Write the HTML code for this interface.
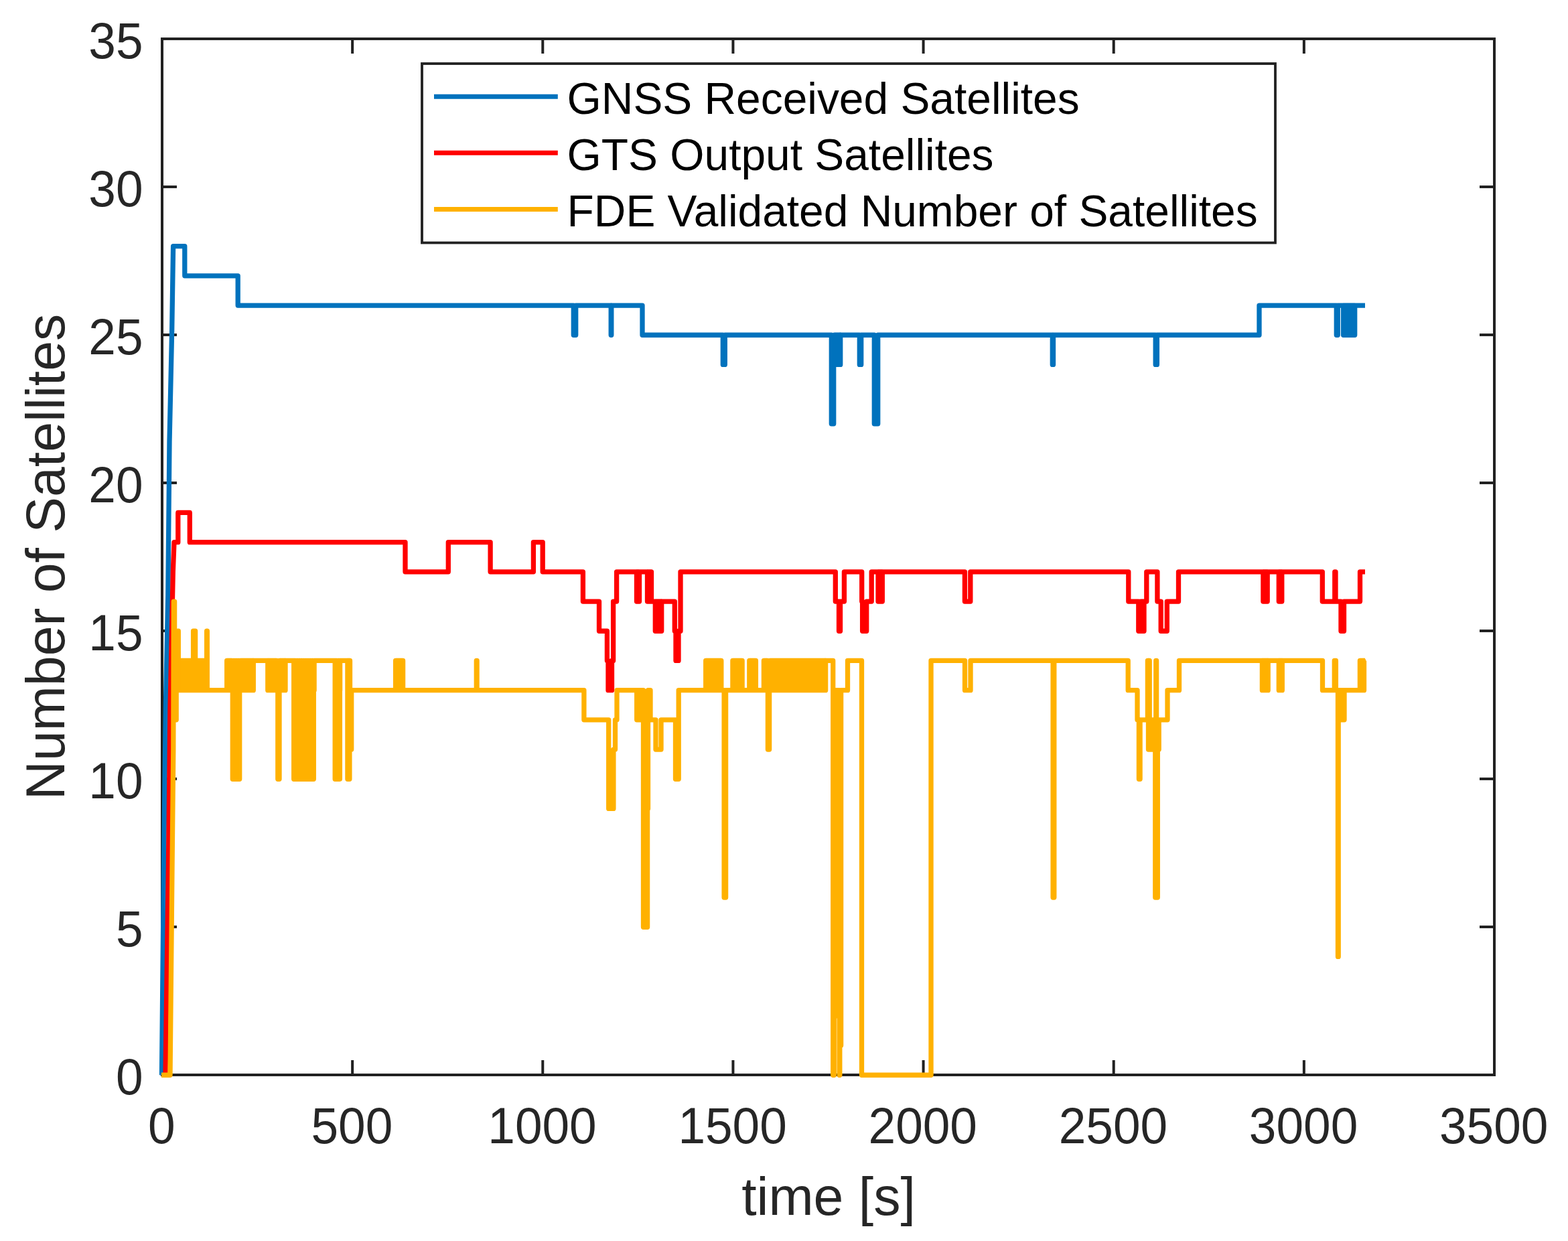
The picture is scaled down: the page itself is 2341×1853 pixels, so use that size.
<!DOCTYPE html>
<html><head><meta charset="utf-8"><title>Number of Satellites</title>
<style>
html,body{margin:0;padding:0;background:#fff;}
body{width:2341px;height:1853px;overflow:hidden;}
svg{display:block;}
text{font-family:"Liberation Sans",Arial,Helvetica,sans-serif;}
</style></head>
<body>
<svg width="2341" height="1853" viewBox="0 0 2341 1853">
<rect x="0" y="0" width="2341" height="1853" fill="#fff"/>
<g fill="none" stroke="#212121" stroke-width="4">
<rect x="242" y="58" width="1989" height="1547"/>
<path d="M242 1605V1583M242 58V80M242 1605H264M2231 1605H2209M526.14 1605V1583M526.14 58V80M242 1384H264M2231 1384H2209M810.29 1605V1583M810.29 58V80M242 1163H264M2231 1163H2209M1094.43 1605V1583M1094.43 58V80M242 942H264M2231 942H2209M1378.57 1605V1583M1378.57 58V80M242 721H264M2231 721H2209M1662.71 1605V1583M1662.71 58V80M242 500H264M2231 500H2209M1946.86 1605V1583M1946.86 58V80M242 279H264M2231 279H2209M2231 1605V1583M2231 58V80M242 58H264M2231 58H2209"/>
</g>
<g fill="none" stroke-linejoin="round" stroke-linecap="butt" stroke-width="7.3">
<path stroke="#0072BD" d="M241.5 1605.25L244.5 1295.85L247.5 1048.33L250.8 889.21L253 659.37L256.7 491.41L258.6 367.65L275.8 367.65L275.8 411.85L355.2 411.85L355.2 456.05L856.3 456.05L856.3 500.25L859.7 500.25L859.7 456.05L912.2 456.05L912.2 500.25L912.8 500.25L912.8 456.05L959 456.05L959 500.25L1079.3 500.25L1079.3 544.45L1082.3 544.45L1082.3 500.25L1241.3 500.25L1241.3 632.85L1244.7 632.85L1244.7 544.45L1245.5 544.45L1245.5 500.25L1246.5 500.25L1246.5 544.45L1247.5 544.45L1247.5 500.25L1248.5 500.25L1248.5 544.45L1249.5 544.45L1249.5 500.25L1250.5 500.25L1250.5 544.45L1251.5 544.45L1251.5 500.25L1252.5 500.25L1252.5 544.45L1253.5 544.45L1253.5 500.25L1254.5 500.25L1254.5 544.45L1254.7 544.45L1254.7 500.25L1283.3 500.25L1283.3 544.45L1285.7 544.45L1285.7 500.25L1305.3 500.25L1305.3 632.85L1310.7 632.85L1310.7 500.25L1571.3 500.25L1571.3 544.45L1572.5 544.45L1572.5 500.25L1725.2 500.25L1725.2 544.45L1727.4 544.45L1727.4 500.25L1880 500.25L1880 456.05L1995.3 456.05L1995.3 500.25L1997.3 500.25L1997.3 456.05L2005.6 456.05L2005.6 500.25L2006.5 500.25L2006.5 456.05L2007.4 456.05L2007.4 500.25L2008.3 500.25L2008.3 456.05L2009.2 456.05L2009.2 500.25L2010.1 500.25L2010.1 456.05L2011 456.05L2011 500.25L2011.9 500.25L2011.9 456.05L2012.8 456.05L2012.8 500.25L2013.7 500.25L2013.7 456.05L2014.6 456.05L2014.6 500.25L2015.5 500.25L2015.5 456.05L2016.4 456.05L2016.4 500.25L2017.3 500.25L2017.3 456.05L2018.2 456.05L2018.2 500.25L2019.1 500.25L2019.1 456.05L2020 456.05L2020 500.25L2020.9 500.25L2020.9 456.05L2021.8 456.05L2021.8 500.25L2022.7 500.25L2022.7 456.05L2023.4 456.05L2023.4 456.05L2038 456.05"/>
<path stroke="#FF0000" d="M247 1605.25L251.4 1295.85L254 1057.17L256.5 942.25L258.3 853.85L260 809.65L265.8 809.65L265.8 765.45L283.3 765.45L283.3 809.65L605 809.65L605 853.85L669.3 853.85L669.3 809.65L732.1 809.65L732.1 853.85L796.4 853.85L796.4 809.65L810.2 809.65L810.2 853.85L870.4 853.85L870.4 898.05L894.5 898.05L894.5 942.25L906.4 942.25L906.4 986.45L908 986.45L908 1030.65L913.5 1030.65L913.5 986.45L915.6 986.45L915.6 898.05L920.6 898.05L920.6 853.85L950.5 853.85L950.5 898.05L951.5 898.05L951.5 853.85L952.5 853.85L952.5 898.05L953.5 898.05L953.5 853.85L954.5 853.85L954.5 898.05L954.5 853.85L966.5 853.85L966.5 898.05L967.5 898.05L967.5 853.85L968.7 853.85L968.7 898.05L969.9 898.05L969.9 853.85L971.1 853.85L971.1 898.05L972.3 898.05L972.3 853.85L972.5 853.85L972.5 898.05L978.3 898.05L978.3 942.25L979.2 942.25L979.2 898.05L980.1 898.05L980.1 942.25L981 942.25L981 898.05L981.9 898.05L981.9 942.25L982.8 942.25L982.8 898.05L983.7 898.05L983.7 942.25L984.6 942.25L984.6 898.05L985.5 898.05L985.5 942.25L986.4 942.25L986.4 898.05L987.3 898.05L987.3 942.25L987.7 942.25L987.7 898.05L1007.3 898.05L1007.3 942.25L1009 942.25L1009 986.45L1013 986.45L1013 942.25L1016 942.25L1016 853.85L1247.3 853.85L1247.3 898.05L1252.5 898.05L1252.5 942.25L1254.5 942.25L1254.5 898.05L1260.4 898.05L1260.4 853.85L1286.7 853.85L1286.7 898.05L1287.6 898.05L1287.6 942.25L1293.7 942.25L1293.7 898.05L1301.2 898.05L1301.2 853.85L1311 853.85L1311 898.05L1311.9 898.05L1311.9 853.85L1312.8 853.85L1312.8 898.05L1313.7 898.05L1313.7 853.85L1314.6 853.85L1314.6 898.05L1315.5 898.05L1315.5 853.85L1316.4 853.85L1316.4 898.05L1317.3 898.05L1317.3 853.85L1318 853.85L1318 853.85L1440.4 853.85L1440.4 898.05L1448.8 898.05L1448.8 853.85L1684.8 853.85L1684.8 898.05L1699.8 898.05L1699.8 942.25L1703 942.25L1703 898.05L1704 898.05L1704 942.25L1705 942.25L1705 898.05L1706 898.05L1706 942.25L1707 942.25L1707 898.05L1708 898.05L1708 942.25L1708 898.05L1711.8 898.05L1711.8 853.85L1727.9 853.85L1727.9 898.05L1733.2 898.05L1733.2 942.25L1742.3 942.25L1742.3 898.05L1759.5 898.05L1759.5 853.85L1885.9 853.85L1885.9 898.05L1886.8 898.05L1886.8 853.85L1887.7 853.85L1887.7 898.05L1888.6 898.05L1888.6 853.85L1889.5 853.85L1889.5 898.05L1890.4 898.05L1890.4 853.85L1891.3 853.85L1891.3 898.05L1892.2 898.05L1892.2 853.85L1892.2 853.85L1892.2 853.85L1909.3 853.85L1909.3 898.05L1910.2 898.05L1910.2 853.85L1911.1 853.85L1911.1 898.05L1912 898.05L1912 853.85L1912.9 853.85L1912.9 898.05L1913.8 898.05L1913.8 853.85L1914.6 853.85L1914.6 853.85L1974.3 853.85L1974.3 898.05L1992.8 898.05L1992.8 853.85L1994 853.85L1994 898.05L2002 898.05L2002 942.25L2006.5 942.25L2006.5 898.05L2030.5 898.05L2030.5 853.85L2038 853.85"/>
<path stroke="#FFB100" d="M241 1605.25L254 1605.25L257 1295.85L258.8 1119.05L259.3 898.05L260.2 898.05L260.6 898.05L260.6 1074.85L261.6 1074.85L261.6 986.45L262.3 986.45L262.3 1074.85L263.2 1074.85L263.2 1030.65L263.6 1030.65L263.6 986.45L264.7 986.45L264.7 1030.65L265.8 1030.65L265.8 986.45L266.9 986.45L266.9 1030.65L268 1030.65L268 986.45L269.1 986.45L269.1 1030.65L270.2 1030.65L270.2 986.45L271.3 986.45L271.3 1030.65L272.4 1030.65L272.4 986.45L273.5 986.45L273.5 1030.65L274.6 1030.65L274.6 986.45L275.7 986.45L275.7 1030.65L276.8 1030.65L276.8 986.45L277.9 986.45L277.9 1030.65L279 1030.65L279 986.45L280.1 986.45L280.1 1030.65L281.2 1030.65L281.2 986.45L282.3 986.45L282.3 1030.65L283.4 1030.65L283.4 986.45L284.5 986.45L284.5 1030.65L285.6 1030.65L285.6 986.45L286.7 986.45L286.7 1030.65L287.8 1030.65L287.8 986.45L288.9 986.45L288.9 1030.65L290 1030.65L290 986.45L291.1 986.45L291.1 1030.65L292.2 1030.65L292.2 986.45L293.3 986.45L293.3 1030.65L294.4 1030.65L294.4 986.45L295.5 986.45L295.5 1030.65L296.6 1030.65L296.6 986.45L297.7 986.45L297.7 1030.65L298.8 1030.65L298.8 986.45L299.9 986.45L299.9 1030.65L301 1030.65L301 986.45L302.1 986.45L302.1 1030.65L303.2 1030.65L303.2 986.45L304.3 986.45L304.3 1030.65L305.4 1030.65L305.4 986.45L306.5 986.45L306.5 1030.65L307.6 1030.65L307.6 986.45L308.7 986.45L308.7 1030.65L309.4 1030.65L309.4 1030.65L338.7 1030.65L338.7 986.45L339.8 986.45L339.8 1030.65L340.9 1030.65L340.9 986.45L342 986.45L342 1030.65L343.1 1030.65L343.1 986.45L344.2 986.45L344.2 1030.65L345.3 1030.65L345.3 986.45L346.4 986.45L346.4 1030.65L347.3 1030.65L347.3 1163.25L348.1 1163.25L348.1 1030.65L348.9 1030.65L348.9 986.45L349.7 986.45L349.7 1030.65L350.5 1030.65L350.5 1163.25L351.3 1163.25L351.3 1030.65L352.1 1030.65L352.1 986.45L352.9 986.45L352.9 1030.65L353.7 1030.65L353.7 1163.25L354.5 1163.25L354.5 1030.65L355.3 1030.65L355.3 986.45L356.1 986.45L356.1 1030.65L356.9 1030.65L356.9 1163.25L357.7 1163.25L357.7 1030.65L358.5 1030.65L358.5 986.45L358.9 986.45L358.9 986.45L360 986.45L360 1030.65L361.1 1030.65L361.1 986.45L362.2 986.45L362.2 1030.65L363.3 1030.65L363.3 986.45L364.4 986.45L364.4 1030.65L365.5 1030.65L365.5 986.45L366.6 986.45L366.6 1030.65L367.7 1030.65L367.7 986.45L368.8 986.45L368.8 1030.65L369.9 1030.65L369.9 986.45L371 986.45L371 1030.65L372.1 1030.65L372.1 986.45L373.2 986.45L373.2 1030.65L374.3 1030.65L374.3 986.45L375.4 986.45L375.4 1030.65L376.5 1030.65L376.5 986.45L377.6 986.45L377.6 1030.65L378.3 1030.65L378.3 986.45L399.8 986.45L399.8 1030.65L400.9 1030.65L400.9 986.45L402 986.45L402 1030.65L403.1 1030.65L403.1 986.45L404.2 986.45L404.2 1030.65L405.3 1030.65L405.3 986.45L406.4 986.45L406.4 1030.65L407.5 1030.65L407.5 986.45L408.6 986.45L408.6 1030.65L409.7 1030.65L409.7 986.45L410.8 986.45L410.8 1030.65L411.9 1030.65L411.9 986.45L413 986.45L413 1030.65L414.8 1030.65L414.8 1163.25L417 1163.25L417 1030.65L417.4 1030.65L417.4 986.45L418.5 986.45L418.5 1030.65L419.6 1030.65L419.6 986.45L420.7 986.45L420.7 1030.65L421.8 1030.65L421.8 986.45L422.9 986.45L422.9 1030.65L424 1030.65L424 986.45L425.1 986.45L425.1 1030.65L426 1030.65L426 986.45L438.7 986.45L438.7 1163.25L439.5 1163.25L439.5 1030.65L440.3 1030.65L440.3 986.45L441.1 986.45L441.1 1030.65L441.9 1030.65L441.9 1163.25L442.7 1163.25L442.7 1030.65L443.5 1030.65L443.5 986.45L444.3 986.45L444.3 1030.65L445.1 1030.65L445.1 1163.25L445.9 1163.25L445.9 1030.65L446.7 1030.65L446.7 986.45L447.5 986.45L447.5 1030.65L448.3 1030.65L448.3 1163.25L449.1 1163.25L449.1 1030.65L449.9 1030.65L449.9 986.45L450.7 986.45L450.7 1030.65L451.5 1030.65L451.5 1163.25L452.3 1163.25L452.3 1030.65L453.1 1030.65L453.1 986.45L453.9 986.45L453.9 1030.65L454.7 1030.65L454.7 1163.25L455.5 1163.25L455.5 1030.65L456.3 1030.65L456.3 986.45L457.1 986.45L457.1 1030.65L457.9 1030.65L457.9 1163.25L458.7 1163.25L458.7 1030.65L459.5 1030.65L459.5 986.45L460.3 986.45L460.3 1030.65L461.1 1030.65L461.1 1163.25L461.9 1163.25L461.9 1030.65L462.7 1030.65L462.7 986.45L463.5 986.45L463.5 1030.65L464.3 1030.65L464.3 1163.25L465.1 1163.25L465.1 1030.65L465.9 1030.65L465.9 986.45L466.7 986.45L466.7 1030.65L467.5 1030.65L467.5 1163.25L468.3 1163.25L468.3 1030.65L469.1 1030.65L469.1 986.45L469.4 986.45L469.4 986.45L500.2 986.45L500.2 1163.25L501 1163.25L501 1030.65L501.8 1030.65L501.8 986.45L502.6 986.45L502.6 1030.65L503.4 1030.65L503.4 1163.25L504.2 1163.25L504.2 1030.65L505 1030.65L505 986.45L505.8 986.45L505.8 1030.65L506.6 1030.65L506.6 1163.25L507.4 1163.25L507.4 1030.65L507.6 1030.65L507.6 986.45L518.9 986.45L518.9 1163.25L519.9 1163.25L519.9 986.45L520.9 986.45L520.9 1163.25L521.9 1163.25L521.9 986.45L522.5 986.45L522.5 1119.05L524.7 1119.05L524.7 1030.65L590.6 1030.65L590.6 986.45L591.6 986.45L591.6 1030.65L592.6 1030.65L592.6 986.45L593.6 986.45L593.6 1030.65L594.6 1030.65L594.6 986.45L595.6 986.45L595.6 1030.65L596.6 1030.65L596.6 986.45L597.6 986.45L597.6 1030.65L598.6 1030.65L598.6 986.45L599.6 986.45L599.6 1030.65L600.6 1030.65L600.6 986.45L601.6 986.45L601.6 1030.65L602.1 1030.65L602.1 1030.65L711.3 1030.65L711.3 986.45L712.1 986.45L712.1 1030.65L871.9 1030.65L871.9 1074.85L908.7 1074.85L908.7 1207.45L915.9 1207.45L915.9 1119.05L918.5 1119.05L918.5 1074.85L921 1074.85L921 1030.65L950.7 1030.65L950.7 1074.85L951.7 1074.85L951.7 1030.65L952.7 1030.65L952.7 1074.85L953.7 1074.85L953.7 1030.65L954.7 1030.65L954.7 1074.85L955.7 1074.85L955.7 1030.65L956.7 1030.65L956.7 1074.85L957.7 1074.85L957.7 1030.65L960.5 1030.65L960.5 1384.25L966.6 1384.25L966.6 1207.45L967.5 1207.45L967.5 1030.65L971 1030.65L971 1074.85L979 1074.85L979 1119.05L987 1119.05L987 1074.85L1008.5 1074.85L1008.5 1163.25L1013.2 1163.25L1013.2 1030.65L1053.7 1030.65L1053.7 986.45L1054.8 986.45L1054.8 1030.65L1055.9 1030.65L1055.9 986.45L1057 986.45L1057 1030.65L1058.1 1030.65L1058.1 986.45L1059.2 986.45L1059.2 1030.65L1060.3 1030.65L1060.3 986.45L1061.4 986.45L1061.4 1030.65L1062.5 1030.65L1062.5 986.45L1063.6 986.45L1063.6 1030.65L1064.7 1030.65L1064.7 986.45L1065.8 986.45L1065.8 1030.65L1066.9 1030.65L1066.9 986.45L1068 986.45L1068 1030.65L1069.1 1030.65L1069.1 986.45L1070.2 986.45L1070.2 1030.65L1071.3 1030.65L1071.3 986.45L1072.4 986.45L1072.4 1030.65L1073.5 1030.65L1073.5 986.45L1074.6 986.45L1074.6 1030.65L1075.7 1030.65L1075.7 986.45L1076.8 986.45L1076.8 1030.65L1081.1 1030.65L1081.1 1340.05L1083.6 1340.05L1083.6 1030.65L1093.9 1030.65L1093.9 986.45L1095 986.45L1095 1030.65L1096.1 1030.65L1096.1 986.45L1097.2 986.45L1097.2 1030.65L1098.3 1030.65L1098.3 986.45L1099.4 986.45L1099.4 1030.65L1100.5 1030.65L1100.5 986.45L1101.6 986.45L1101.6 1030.65L1102.7 1030.65L1102.7 986.45L1103.8 986.45L1103.8 1030.65L1104.9 1030.65L1104.9 986.45L1106 986.45L1106 1030.65L1107.1 1030.65L1107.1 986.45L1108.1 986.45L1108.1 1030.65L1118.8 1030.65L1118.8 986.45L1119.9 986.45L1119.9 1030.65L1121 1030.65L1121 986.45L1122.1 986.45L1122.1 1030.65L1123.2 1030.65L1123.2 986.45L1124.3 986.45L1124.3 1030.65L1125.4 1030.65L1125.4 986.45L1126.5 986.45L1126.5 1030.65L1127.6 1030.65L1127.6 986.45L1128.4 986.45L1128.4 1030.65L1140.4 1030.65L1140.4 986.45L1141.5 986.45L1141.5 1030.65L1142.6 1030.65L1142.6 986.45L1143.7 986.45L1143.7 1030.65L1144.8 1030.65L1144.8 986.45L1145.9 986.45L1145.9 1030.65L1146.4 1030.65L1146.4 1119.05L1148.6 1119.05L1148.6 1030.65L1149.5 1030.65L1149.5 986.45L1150.6 986.45L1150.6 1030.65L1151.7 1030.65L1151.7 986.45L1152.8 986.45L1152.8 1030.65L1153.9 1030.65L1153.9 986.45L1155 986.45L1155 1030.65L1156.1 1030.65L1156.1 986.45L1157.2 986.45L1157.2 1030.65L1158.3 1030.65L1158.3 986.45L1159.4 986.45L1159.4 1030.65L1160.5 1030.65L1160.5 986.45L1161.6 986.45L1161.6 1030.65L1162.7 1030.65L1162.7 986.45L1163.8 986.45L1163.8 1030.65L1164.9 1030.65L1164.9 986.45L1166 986.45L1166 1030.65L1167.1 1030.65L1167.1 986.45L1168.2 986.45L1168.2 1030.65L1169.3 1030.65L1169.3 986.45L1170.4 986.45L1170.4 1030.65L1171.5 1030.65L1171.5 986.45L1172.6 986.45L1172.6 1030.65L1173.7 1030.65L1173.7 986.45L1174.8 986.45L1174.8 1030.65L1175.9 1030.65L1175.9 986.45L1177 986.45L1177 1030.65L1178.1 1030.65L1178.1 986.45L1179.2 986.45L1179.2 1030.65L1180.3 1030.65L1180.3 986.45L1181.4 986.45L1181.4 1030.65L1182.5 1030.65L1182.5 986.45L1183.6 986.45L1183.6 1030.65L1184.7 1030.65L1184.7 986.45L1185.8 986.45L1185.8 1030.65L1186.9 1030.65L1186.9 986.45L1188 986.45L1188 1030.65L1189.1 1030.65L1189.1 986.45L1190.2 986.45L1190.2 1030.65L1191.3 1030.65L1191.3 986.45L1192.4 986.45L1192.4 1030.65L1193.5 1030.65L1193.5 986.45L1194.6 986.45L1194.6 1030.65L1195.7 1030.65L1195.7 986.45L1196.8 986.45L1196.8 1030.65L1197.9 1030.65L1197.9 986.45L1199 986.45L1199 1030.65L1200.1 1030.65L1200.1 986.45L1201.2 986.45L1201.2 1030.65L1202.3 1030.65L1202.3 986.45L1203.4 986.45L1203.4 1030.65L1204.5 1030.65L1204.5 986.45L1205.6 986.45L1205.6 1030.65L1206.7 1030.65L1206.7 986.45L1207.8 986.45L1207.8 1030.65L1208.9 1030.65L1208.9 986.45L1210 986.45L1210 1030.65L1211.1 1030.65L1211.1 986.45L1212.2 986.45L1212.2 1030.65L1213.3 1030.65L1213.3 986.45L1214.4 986.45L1214.4 1030.65L1215.5 1030.65L1215.5 986.45L1216.6 986.45L1216.6 1030.65L1217.7 1030.65L1217.7 986.45L1218.8 986.45L1218.8 1030.65L1219.9 1030.65L1219.9 986.45L1221 986.45L1221 1030.65L1222.1 1030.65L1222.1 986.45L1223.2 986.45L1223.2 1030.65L1224.3 1030.65L1224.3 986.45L1225.4 986.45L1225.4 1030.65L1226.5 1030.65L1226.5 986.45L1227.6 986.45L1227.6 1030.65L1228.7 1030.65L1228.7 986.45L1229.8 986.45L1229.8 1030.65L1230.9 1030.65L1230.9 986.45L1232 986.45L1232 1030.65L1232.6 1030.65L1232.6 986.45L1243.7 986.45L1243.7 1605.25L1245.3 1605.25L1245.3 1030.65L1247.5 1030.65L1247.5 1516.85L1249.5 1516.85L1249.5 1030.65L1253.1 1030.65L1253.1 1605.25L1253.8 1605.25L1253.8 1561.05L1255.6 1561.05L1255.6 1030.65L1265.5 1030.65L1265.5 986.45L1286.5 986.45L1286.5 1605.25L1390 1605.25L1390 986.45L1440.5 986.45L1440.5 1030.65L1449 1030.65L1449 986.45L1572.1 986.45L1572.1 1340.05L1573.8 1340.05L1573.8 986.45L1684.2 986.45L1684.2 1030.65L1698 1030.65L1698 1074.85L1700.4 1074.85L1700.4 1163.25L1702.1 1163.25L1702.1 1074.85L1713.4 1074.85L1713.4 986.45L1714.5 986.45L1714.5 1119.05L1715.5 1119.05L1715.5 986.45L1716.2 986.45L1716.2 1119.05L1720 1119.05L1720 1074.85L1722 1074.85L1722 1119.05L1724.8 1119.05L1724.8 1340.05L1725.8 1340.05L1725.8 986.45L1726.6 986.45L1726.6 1340.05L1728.3 1340.05L1728.3 1119.05L1730.2 1119.05L1730.2 1074.85L1743 1074.85L1743 1030.65L1760.5 1030.65L1760.5 986.45L1884.4 986.45L1884.4 1030.65L1885.4 1030.65L1885.4 986.45L1886.4 986.45L1886.4 1030.65L1887.4 1030.65L1887.4 986.45L1888.4 986.45L1888.4 1030.65L1889.4 1030.65L1889.4 986.45L1890.4 986.45L1890.4 1030.65L1891.4 1030.65L1891.4 986.45L1892.4 986.45L1892.4 1030.65L1893.2 1030.65L1893.2 986.45L1909.3 986.45L1909.3 1030.65L1910.3 1030.65L1910.3 986.45L1911.3 986.45L1911.3 1030.65L1912.3 1030.65L1912.3 986.45L1913.3 986.45L1913.3 1030.65L1914.3 1030.65L1914.3 986.45L1914.6 986.45L1914.6 986.45L1974.5 986.45L1974.5 1030.65L1992.3 1030.65L1992.3 986.45L1994.4 986.45L1994.4 1030.65L1997.5 1030.65L1997.5 1428.45L1998.2 1428.45L1998.2 1074.85L1999 1074.85L1999 1030.65L1999.8 1030.65L1999.8 1074.85L2000.6 1074.85L2000.6 1030.65L2001.4 1030.65L2001.4 1074.85L2002.2 1074.85L2002.2 1030.65L2003 1030.65L2003 1074.85L2003.8 1074.85L2003.8 1030.65L2004.6 1030.65L2004.6 1074.85L2005.4 1074.85L2005.4 1030.65L2006.2 1030.65L2006.2 1074.85L2007 1074.85L2007 1030.65L2007.6 1030.65L2007.6 1030.65L2030.4 1030.65L2030.4 986.45L2031.5 986.45L2031.5 1030.65L2032.5 1030.65L2032.5 986.45L2033.5 986.45L2033.5 1030.65L2034.5 1030.65L2034.5 986.45L2035.5 986.45L2035.5 1030.65L2036.5 1030.65L2036.5 986.45L2036.5 986.45L2038 986.45"/>
<path stroke="#FFB100" d="M265.7 1030.65L265.7 942.25L266.3 942.25L266.3 1030.65M288.6 1030.65L288.6 942.25L291.6 942.25L291.6 1030.65M308.65 1030.65L308.65 942.25L309.35 942.25L309.35 1030.65"/>
</g>

<g fill="#262626" font-size="73">
<text transform="translate(241.2 1707) scale(1 1.03)" text-anchor="middle">0</text>
<text transform="translate(525.34 1707) scale(1 1.03)" text-anchor="middle">500</text>
<text transform="translate(809.49 1707) scale(1 1.03)" text-anchor="middle">1000</text>
<text transform="translate(1093.63 1707) scale(1 1.03)" text-anchor="middle">1500</text>
<text transform="translate(1377.77 1707) scale(1 1.03)" text-anchor="middle">2000</text>
<text transform="translate(1661.91 1707) scale(1 1.03)" text-anchor="middle">2500</text>
<text transform="translate(1946.06 1707) scale(1 1.03)" text-anchor="middle">3000</text>
<text transform="translate(2230.2 1707) scale(1 1.03)" text-anchor="middle">3500</text>
<text transform="translate(213.5 1634.3) scale(1 1.035)" text-anchor="end">0</text>
<text transform="translate(213.5 1413.3) scale(1 1.035)" text-anchor="end">5</text>
<text transform="translate(213.5 1192.3) scale(1 1.035)" text-anchor="end">10</text>
<text transform="translate(213.5 971.3) scale(1 1.035)" text-anchor="end">15</text>
<text transform="translate(213.5 750.3) scale(1 1.035)" text-anchor="end">20</text>
<text transform="translate(213.5 529.3) scale(1 1.035)" text-anchor="end">25</text>
<text transform="translate(213.5 308.3) scale(1 1.035)" text-anchor="end">30</text>
<text transform="translate(213.5 87.3) scale(1 1.035)" text-anchor="end">35</text>
</g>
<text transform="translate(1237 1813.9)" text-anchor="middle" font-size="80.6" fill="#262626">time [s]</text>
<text transform="translate(96 831.5) rotate(-90) scale(1 1.015)" x="0" y="0" text-anchor="middle" font-size="80.6" fill="#262626">Number of Satellites</text>
<g>
<rect x="630" y="95" width="1274" height="267.5" fill="#fff" stroke="#212121" stroke-width="3.8"/>
<g stroke-width="7" fill="none">
<path stroke="#0072BD" d="M648 144.3H832.8"/>
<path stroke="#FF0000" d="M648 228.3H832.8"/>
<path stroke="#FFB100" d="M648 312.4H832.8"/>
</g>
<g font-size="65.86" fill="#000">
<text x="846.6" y="170.3">GNSS Received Satellites</text>
<text x="846.6" y="254.2">GTS Output Satellites</text>
<text x="846.6" y="337.6">FDE Validated Number of Satellites</text>
</g>
</g>
</svg>
</body></html>
